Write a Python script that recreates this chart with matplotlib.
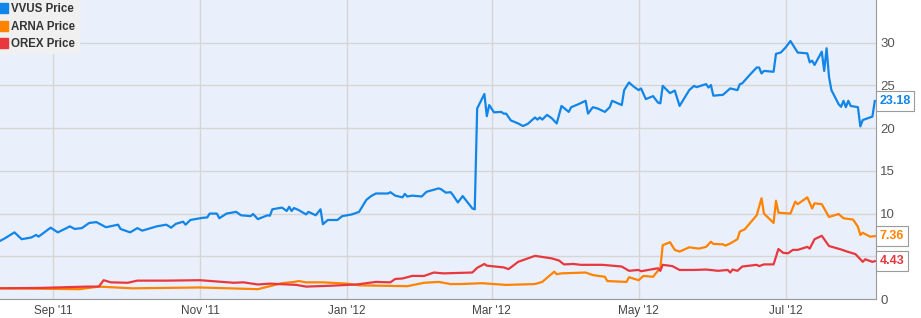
#plot.py

"""Price history of VVUS, ARNA and OREX, Aug 2011 - Aug 2012."""

import pandas as pd
import matplotlib
matplotlib.use("Agg")
from matplotlib import pyplot as plt
from matplotlib import dates as mdates
from matplotlib.lines import Line2D

#Values
vvus_dates = ["2011-08-10", "2011-08-12", "2011-08-16", "2011-08-19", "2011-08-23", "2011-08-25",
              "2011-08-26", "2011-08-31", "2011-09-03", "2011-09-08", "2011-09-10", "2011-09-13",
              "2011-09-16", "2011-09-19", "2011-09-23", "2011-09-28", "2011-09-29", "2011-10-03",
              "2011-10-06", "2011-10-08", "2011-10-14", "2011-10-18", "2011-10-20", "2011-10-22",
              "2011-10-25", "2011-10-26", "2011-10-28", "2011-11-02", "2011-11-04", "2011-11-05",
              "2011-11-08", "2011-11-09", "2011-11-12", "2011-11-16", "2011-11-18", "2011-11-22",
              "2011-11-23", "2011-11-25", "2011-11-29", "2011-11-30", "2011-12-01", "2011-12-05",
              "2011-12-07", "2011-12-08", "2011-12-09", "2011-12-10", "2011-12-12", "2011-12-15",
              "2011-12-16", "2011-12-19", "2011-12-21", "2011-12-22", "2011-12-24", "2011-12-28",
              "2011-12-30", "2012-01-03", "2012-01-06", "2012-01-09", "2012-01-11", "2012-01-13",
              "2012-01-18", "2012-01-19", "2012-01-21", "2012-01-24", "2012-01-25", "2012-01-26",
              "2012-01-28", "2012-02-01", "2012-02-03", "2012-02-08", "2012-02-09", "2012-02-11",
              "2012-02-13", "2012-02-14", "2012-02-16", "2012-02-18", "2012-02-22", "2012-02-23",
              "2012-02-24", "2012-02-27", "2012-02-28", "2012-02-29", "2012-03-02", "2012-03-05",
              "2012-03-06", "2012-03-07", "2012-03-09", "2012-03-12", "2012-03-14", "2012-03-16",
              "2012-03-19", "2012-03-20", "2012-03-21", "2012-03-22", "2012-03-24", "2012-03-26",
              "2012-03-28", "2012-03-30", "2012-04-02", "2012-04-03", "2012-04-06", "2012-04-09",
              "2012-04-10", "2012-04-12", "2012-04-14", "2012-04-17", "2012-04-19", "2012-04-20",
              "2012-04-24", "2012-04-25", "2012-04-27", "2012-04-29", "2012-05-01", "2012-05-02",
              "2012-05-04", "2012-05-07", "2012-05-09", "2012-05-10", "2012-05-11", "2012-05-14",
              "2012-05-16", "2012-05-18", "2012-05-22", "2012-05-24", "2012-05-25", "2012-05-29",
              "2012-05-30", "2012-05-31", "2012-06-01", "2012-06-05", "2012-06-08", "2012-06-11",
              "2012-06-12", "2012-06-13", "2012-06-16", "2012-06-19", "2012-06-20", "2012-06-21",
              "2012-06-22", "2012-06-26", "2012-06-27", "2012-06-29", "2012-07-01", "2012-07-03",
              "2012-07-06", "2012-07-10", "2012-07-11", "2012-07-12", "2012-07-13", "2012-07-16",
              "2012-07-17", "2012-07-18", "2012-07-19", "2012-07-20", "2012-07-23", "2012-07-24",
              "2012-07-25", "2012-07-26", "2012-07-27", "2012-07-28", "2012-07-31", "2012-08-01",
              "2012-08-02", "2012-08-06", "2012-08-07"]
vvus_price = [6.8, 7.1, 7.8, 7.0, 7.2, 7.5,
              7.3, 8.35, 7.8, 8.5, 8.2, 8.3,
              8.9, 9.0, 8.4, 8.7, 8.2, 7.8,
              8.3, 8.0, 8.5, 8.7, 8.35, 8.8,
              9.05, 8.7, 9.25, 9.5, 9.55, 10.0,
              10.0, 9.45, 10.0, 10.2, 9.8, 9.7,
              9.95, 9.35, 9.8, 9.75, 10.5, 10.7,
              10.3, 10.8, 10.3, 10.65, 10.4, 9.9,
              10.2, 9.8, 10.5, 8.75, 9.25, 9.25,
              9.7, 9.9, 10.2, 11.6, 12.05, 12.35,
              12.35, 12.5, 12.1, 11.9, 12.3, 12.0,
              12.1, 12.0, 12.55, 12.95, 12.85, 12.45,
              12.5, 12.15, 11.3, 12.05, 10.6, 10.5,
              22.3, 24.0, 21.4, 22.7, 21.85, 21.9,
              21.7, 21.7, 20.9, 20.55, 20.25, 20.5,
              21.25, 21.0, 21.25, 21.0, 21.55, 21.15,
              20.55, 22.6, 21.9, 22.45, 22.8, 23.2,
              21.7, 22.45, 22.3, 21.9, 22.45, 23.2,
              22.7, 24.45, 25.35, 24.85, 24.45, 24.65,
              23.4, 23.75, 23.0, 22.9, 24.95, 24.1,
              24.4, 22.6, 24.45, 24.95, 24.8, 25.15,
              24.75, 25.05, 23.8, 23.9, 24.65, 24.45,
              25.15, 25.25, 26.2, 27.1, 27.1, 26.4,
              26.7, 26.6, 28.7, 28.85, 29.45, 30.2,
              28.85, 28.75, 27.7, 27.9, 27.4, 28.95,
              26.7, 29.35, 26.0, 24.45, 22.8, 22.5,
              23.2, 22.45, 23.2, 22.6, 22.45, 20.2,
              20.95, 21.35, 23.18]

arna_dates = ["2011-08-10", "2011-09-12", "2011-09-20", "2011-10-04", "2011-11-01", "2011-11-25",
              "2011-11-30", "2011-12-05", "2011-12-10", "2011-12-12", "2011-12-15", "2011-12-22",
              "2012-01-01", "2012-01-06", "2012-01-26", "2012-02-02", "2012-02-08", "2012-02-13",
              "2012-02-17", "2012-02-26", "2012-03-07", "2012-03-19", "2012-03-22", "2012-03-27",
              "2012-03-28", "2012-03-30", "2012-04-09", "2012-04-12", "2012-04-17", "2012-04-18",
              "2012-04-26", "2012-04-27", "2012-05-01", "2012-05-03", "2012-05-07", "2012-05-09",
              "2012-05-10", "2012-05-11", "2012-05-14", "2012-05-16", "2012-05-18", "2012-05-22",
              "2012-05-26", "2012-05-29", "2012-05-31", "2012-06-01", "2012-06-05", "2012-06-06",
              "2012-06-08", "2012-06-11", "2012-06-12", "2012-06-14", "2012-06-19", "2012-06-21",
              "2012-06-22", "2012-06-26", "2012-06-27", "2012-06-28", "2012-07-03", "2012-07-05",
              "2012-07-06", "2012-07-10", "2012-07-12", "2012-07-13", "2012-07-16", "2012-07-19",
              "2012-07-23", "2012-07-25", "2012-07-29", "2012-07-31", "2012-08-01", "2012-08-02",
              "2012-08-05", "2012-08-07"]
arna_price = [1.25, 1.15, 1.45, 1.25, 1.35, 1.15,
              1.5, 1.85, 2.0, 2.1, 1.95, 1.95,
              1.8, 1.6, 1.5, 1.9, 2.0, 1.75,
              1.75, 1.85, 1.65, 1.75, 2.0, 3.2,
              2.9, 3.0, 3.1, 2.8, 2.6, 2.1,
              2.0, 2.55, 2.2, 2.7, 2.6, 3.3,
              3.6, 6.3, 6.65, 5.75, 5.55, 6.05,
              5.9, 6.1, 6.7, 6.45, 6.4, 6.25,
              6.5, 7.0, 7.9, 8.15, 9.8, 11.8,
              10.0, 8.9, 11.5, 10.1, 10.0, 11.4,
              11.1, 11.9, 10.6, 11.2, 11.1, 9.6,
              9.95, 9.45, 9.3, 8.45, 7.5, 7.75,
              7.3, 7.36]

orex_dates = ["2011-08-10", "2011-08-27", "2011-09-15", "2011-09-20", "2011-09-22", "2011-09-25",
              "2011-10-02", "2011-10-06", "2011-10-18", "2011-11-01", "2011-11-15", "2011-11-19",
              "2011-11-25", "2011-11-30", "2011-12-11", "2011-12-15", "2011-12-25", "2012-01-05",
              "2012-01-09", "2012-01-13", "2012-01-19", "2012-01-21", "2012-01-24", "2012-01-28",
              "2012-02-02", "2012-02-06", "2012-02-10", "2012-02-22", "2012-02-24", "2012-02-27",
              "2012-02-28", "2012-03-06", "2012-03-08", "2012-03-09", "2012-03-12", "2012-03-19",
              "2012-03-26", "2012-03-29", "2012-03-31", "2012-04-04", "2012-04-07", "2012-04-16",
              "2012-04-24", "2012-04-27", "2012-05-01", "2012-05-02", "2012-05-06", "2012-05-09",
              "2012-05-10", "2012-05-11", "2012-05-15", "2012-05-18", "2012-05-24", "2012-05-29",
              "2012-06-03", "2012-06-07", "2012-06-08", "2012-06-09", "2012-06-11", "2012-06-13",
              "2012-06-19", "2012-06-20", "2012-06-22", "2012-06-26", "2012-06-28", "2012-06-30",
              "2012-07-02", "2012-07-04", "2012-07-06", "2012-07-10", "2012-07-11", "2012-07-13",
              "2012-07-16", "2012-07-17", "2012-07-19", "2012-07-24", "2012-07-26", "2012-07-30",
              "2012-08-02", "2012-08-03", "2012-08-06", "2012-08-07"]
orex_price = [1.25, 1.3, 1.45, 1.45, 2.2, 1.95,
              1.9, 2.15, 2.15, 2.2, 1.9, 1.95,
              1.7, 1.8, 1.65, 1.45, 1.55, 1.7,
              1.85, 2.0, 1.95, 2.35, 2.4, 2.7,
              2.7, 3.1, 3.0, 3.1, 3.65, 4.1,
              3.9, 3.7, 3.5, 3.7, 4.35, 5.05,
              4.75, 4.5, 4.05, 4.1, 4.0, 4.0,
              3.8, 3.3, 3.4, 3.25, 3.45, 3.6,
              3.3, 4.0, 3.85, 3.4, 3.4, 3.45,
              3.3, 3.4, 3.1, 3.45, 3.3, 3.8,
              4.0, 3.85, 4.05, 4.05, 5.85, 5.4,
              5.35, 5.75, 5.75, 6.1, 5.9, 7.0,
              7.4, 7.0, 6.2, 5.8, 5.6, 5.25,
              4.35, 4.65, 4.35, 4.43]

series_names = ["VVUS Price", "ARNA Price", "OREX Price"]
series_colors = ["#1185e8", "#ff8200", "#e8383d"]
y_ticks = [0, 5, 10, 15, 20, 25, 30]

plt.rcParams['font.family'] = ['Liberation Sans', 'DejaVu Sans']

fig = plt.figure(figsize=(9.21, 3.18), dpi=100)
ax = fig.add_axes([0, 1 - 299/318, 876/921, 299/318])
ax.set_facecolor("#eaf0fb")

all_dates = [vvus_dates, arna_dates, orex_dates]
all_prices = [vvus_price, arna_price, orex_price]
for dates, prices, color in zip(all_dates, all_prices, series_colors):
    ax.plot(pd.to_datetime(dates), prices, color=color, lw=1.6, zorder=3,
            solid_joinstyle="round")

#Axes and grid
ax.set_xlim(pd.Timestamp("2011-08-10"), pd.Timestamp("2012-08-07 12:00"))
ax.set_ylim(0, 35)
ax.xaxis.set_major_locator(mdates.MonthLocator(bymonth=[1, 3, 5, 7, 9, 11]))
ax.xaxis.set_major_formatter(mdates.DateFormatter("%b '%y"))
ax.set_yticks(y_ticks)
ax.yaxis.tick_right()
ax.tick_params(axis="both", length=0, colors="#444444")
ax.tick_params(axis="x", pad=4, labelsize=8.5)
ax.tick_params(axis="y", pad=3, labelsize=9.5, colors="#555555")
ax.grid(True, color="#d6d6d6", lw=1)
ax.set_axisbelow(True)
for side in ["top", "left"]:
    ax.spines[side].set_visible(False)
ax.spines["bottom"].set_color("#9a9a9a")
ax.spines["right"].set_color("#9a9a9a")

#Last value boxes on the right
for dates, prices, color in zip(all_dates, all_prices, series_colors):
    ax.annotate("%.2f" % prices[-1], xy=(1, prices[-1]), xycoords=("axes fraction", "data"),
                xytext=(2.5, 0), textcoords="offset points", va="center", ha="left",
                color=color, fontsize=9, fontweight="bold", annotation_clip=False, zorder=5,
                bbox=dict(boxstyle="square,pad=0.3", fc="white", ec="#9a9a9a", lw=0.8))

#Legend in the top left corner
handles = [Line2D([], [], ls="none", marker="s", markersize=6.5, color=c) for c in series_colors]
leg = ax.legend(handles, series_names, loc="upper left", bbox_to_anchor=(-0.006, 1.0),
                borderaxespad=0, prop=dict(size=8.3, weight="bold"), handlelength=0.8,
                handletextpad=0.35, labelspacing=0.45, borderpad=0.3, fancybox=False,
                framealpha=1)
leg.get_frame().set_facecolor("#f0f0f0")
leg.get_frame().set_edgecolor("#f0f0f0")
for txt in leg.get_texts():
    txt.set_color("#333333")

fig.savefig("out.png", dpi=100)
